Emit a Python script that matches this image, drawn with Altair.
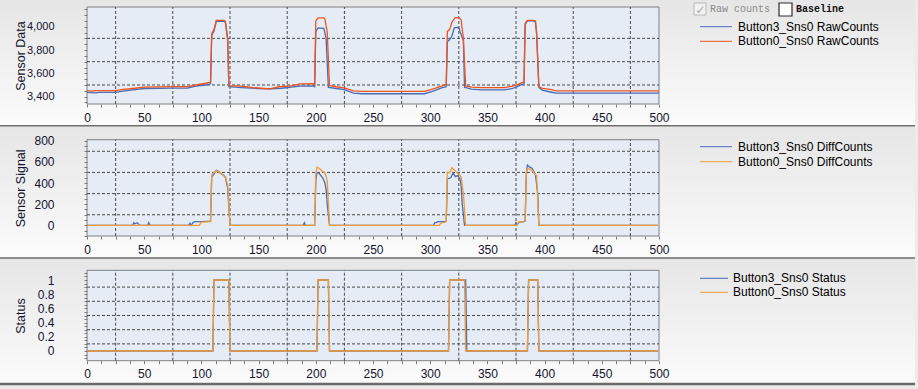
import altair as alt
import pandas as pd

# ---------------- data ----------------
x_tick_values = [i * 12.5 for i in range(41)]
v_grid_x = [25, 75, 125, 175, 225, 275, 325, 375, 425, 475]

# Panel 1: raw counts
raw_b3_x = [0, 8, 10, 25, 30, 40, 50, 75, 88, 95, 104, 108, 109, 111, 113, 120, 121, 123, 124, 135,
            150, 160, 170, 186, 198, 199, 200, 202, 207, 209, 211, 218, 225, 233, 240, 295, 302, 310, 314, 315,
            317, 319, 321, 325, 326, 329, 330, 336, 345, 365, 372, 377, 380, 382, 383, 385, 390, 392, 393, 395,
            398, 405, 410, 500]
raw_b3_y = [3437, 3432, 3437, 3437, 3445, 3458, 3470, 3474, 3474, 3490, 3500, 3510, 3925, 3960, 4045, 4045, 4035, 3880, 3485, 3478,
            3470, 3468, 3472, 3490, 3492, 3485, 3960, 3990, 3985, 3900, 3480, 3470, 3460, 3430, 3425, 3425, 3445, 3475, 3485, 3870,
            3890, 3920, 3990, 3995, 3960, 3880, 3480, 3465, 3458, 3458, 3470, 3490, 3505, 3510, 4020, 4050, 4050, 4040, 3940, 3480,
            3455, 3440, 3430, 3430]
raw_b0_x = [0, 5, 7, 25, 30, 40, 50, 75, 88, 95, 104, 108, 109, 111, 113, 120, 121, 123, 124, 135,
            145, 155, 160, 168, 180, 186, 198, 199, 200, 202, 207, 208, 210, 212, 218, 225, 233, 240, 295, 302,
            310, 314, 315, 317, 319, 322, 325, 327, 329, 331, 336, 345, 365, 372, 377, 380, 382, 383, 385, 390,
            392, 393, 395, 398, 405, 410, 500]
raw_b0_y = [3452, 3447, 3452, 3452, 3460, 3470, 3482, 3486, 3486, 3500, 3515, 3525, 3940, 3975, 4055, 4055, 4045, 3900, 3495, 3490,
            3478, 3470, 3466, 3485, 3495, 3510, 3512, 3505, 4050, 4075, 4075, 4065, 3950, 3495, 3485, 3475, 3450, 3445, 3445, 3465,
            3490, 3505, 3960, 3975, 4040, 4078, 4078, 4060, 3900, 3492, 3482, 3478, 3478, 3490, 3505, 3520, 3525, 4030, 4055, 4055,
            4050, 3950, 3488, 3470, 3462, 3450, 3450]

# Panel 2: diff counts
diff_b3_x = [0, 40, 41, 42, 44, 46, 53, 54, 55, 89, 90, 91, 93, 95, 100, 108, 109, 110, 113, 115,
             117, 120, 121, 123, 125, 189, 190, 191, 199, 200, 201, 203, 206, 208, 209, 210, 212, 303, 304, 305,
             307, 313, 314, 315, 317, 318, 320, 322, 324, 326, 327, 328, 330, 374, 375, 376, 378, 382, 383, 384,
             385, 387, 389, 391, 392, 394, 395, 499]
diff_b3_y = [0, 0, 25, 15, 25, 0, 0, 25, 0, 0, 20, 0, 30, 35, 35, 40, 460, 470, 520, 510,
             490, 470, 450, 350, 0, 0, 25, 0, 0, 420, 500, 490, 450, 400, 340, 200, 0, 0, 25, 25,
             35, 35, 40, 440, 445, 450, 495, 460, 470, 440, 380, 200, 0, 0, 25, 10, 30, 35, 40, 480,
             570, 550, 540, 500, 480, 300, 0, 0]
diff_b0_x = [0, 98, 100, 108, 109, 110, 113, 115, 117, 121, 123, 125, 199, 200, 201, 203, 206, 208, 210, 212,
             308, 309, 313, 314, 315, 317, 319, 322, 325, 327, 329, 331, 376, 377, 381, 383, 384, 385, 389, 391,
             393, 395, 499]
diff_b0_y = [0, 0, 30, 35, 470, 490, 515, 505, 495, 455, 380, 0, 0, 480, 550, 540, 510, 495, 420, 0,
             0, 20, 30, 40, 500, 495, 545, 515, 480, 460, 300, 0, 0, 30, 35, 40, 500, 540, 520, 490,
             470, 0, 0]

# Panel 3: status
status_b3_x = [0, 110, 111, 124, 125, 201, 202, 211, 212, 316, 317, 331, 332, 385, 386, 394, 395, 499]
status_b3_y = [0, 0, 1, 1, 0, 0, 1, 1, 0, 0, 1, 1, 0, 0, 1, 1, 0, 0]
status_b0_x = [0, 110, 111, 124, 125, 201, 202, 211, 212, 316, 317, 330, 331, 385, 386, 394, 395, 499]
status_b0_y = [0, 0, 1, 1, 0, 0, 1, 1, 0, 0, 1, 1, 0, 0, 1, 1, 0, 0]

raw_ticks = [3350 + 50 * i for i in range(17)]
raw_grid = [3500, 3700, 3900]
diff_ticks = [-100 + 50 * i for i in range(19)]
diff_grid = [100, 300, 500, 700]
status_ticks = [round(-0.1 + 0.05 * i, 2) for i in range(25)]
status_grid = [0.1, 0.3, 0.5, 0.7, 0.9]

legend1 = ["Button3_Sns0 RawCounts", "Button0_Sns0 RawCounts"]
legend2 = ["Button3_Sns0 DiffCounts", "Button0_Sns0 DiffCounts"]
legend3 = ["Button3_Sns0 Status", "Button0_Sns0 Status"]

# ---------------- style ----------------
W, H = 918, 389
XL, XR = 87, 659
BLUE = "#4A6CB3"
RED = "#EF5420"
ORANGE = "#F29B36"
FONT = "Liberation Sans"
TXT = "#14142E"
one = pd.DataFrame({"k": [0]})


def x_axis(offset):
    return alt.Axis(orient="bottom", offset=offset, values=x_tick_values, zindex=1,
                    labelExpr="datum.value % 50 == 0 ? format(datum.value, 'd') : ''",
                    tickSize=3, tickColor="#7A7A7A", domain=False, grid=False,
                    labelFont=FONT, labelFontSize=12, labelColor=TXT, labelPadding=5,
                    labelFlush=False, labelOverlap=False, labelBound=False, title=None)


def y_axis(title, title_y, values, expr, lsize):
    return alt.Axis(orient="left", offset=-XL, values=values, labelExpr=expr, zindex=1,
                    tickSize=3, tickColor="#7A7A7A", domain=False, grid=False,
                    labelFont=FONT, labelFontSize=lsize, labelColor=TXT, labelPadding=30,
                    labelAlign="right", labelBaseline="middle",
                    labelFlush=False, labelOverlap=False, labelBound=False,
                    title=title, titleX=20 - XL, titleY=title_y, titleAngle=270,
                    titleAlign="center", titleBaseline="middle",
                    titleFont=FONT, titleFontSize=12.5, titleFontWeight="normal", titleColor=TXT)


def panel(series, ydom, yrange, ticks, grid, expr, title, x_off, lsize=12):
    xs = alt.Scale(domain=[0, 500], range=[XL, XR], nice=False, zero=False)
    ys = alt.Scale(domain=ydom, range=yrange, nice=False, zero=False)
    X = alt.X("x:Q", scale=xs, axis=x_axis(x_off))
    Y = alt.Y("y:Q", scale=ys, axis=y_axis(title, (yrange[0] + yrange[1]) / 2, ticks, expr, lsize))
    frame = alt.Chart(pd.DataFrame({"x": [0], "x2": [500], "y": [ydom[0]], "y2": [ydom[1]]})).mark_rect(
        fill="#E5ECF6", stroke="#808080", strokeWidth=1).encode(x=X, x2="x2:Q", y=Y, y2="y2:Q")
    vg = alt.Chart(pd.DataFrame({"x": v_grid_x, "y": [ydom[0]] * len(v_grid_x), "y2": [ydom[1]] * len(v_grid_x)})).mark_rule(
        color="#4A4A4A", strokeDash=[3, 2], strokeWidth=1).encode(x=X, y=Y, y2="y2:Q")
    hg = alt.Chart(pd.DataFrame({"y": grid, "x": [0] * len(grid), "x2": [500] * len(grid)})).mark_rule(
        color="#4A4A4A", strokeDash=[3, 2], strokeWidth=1).encode(x=X, x2="x2:Q", y=Y)
    lines = []
    for xs_, ys_, col in series:
        lines.append(alt.Chart(pd.DataFrame({"x": xs_, "y": ys_})).mark_line(
            color=col, strokeWidth=1.3).encode(x=X, y=Y))
    return alt.layer(frame, vg, hg, *lines)


def grad(c0, c1):
    return alt.LinearGradient(gradient="linear", x1=0, x2=0, y1=0, y2=1,
                              stops=[alt.GradientStop(color=c0, offset=0), alt.GradientStop(color=c1, offset=1)])


def box(x0, x1, y0, y1, **kw):
    return alt.Chart(one).mark_rect(**kw).encode(x=alt.value(x0), x2=alt.value(x1), y=alt.value(y0), y2=alt.value(y1))


def text(s, x, y, **kw):
    return alt.Chart(one).mark_text(text=s, align="left", baseline="middle", **kw).encode(x=alt.value(x), y=alt.value(y))


def hline(x0, x1, y, color, w=1):
    return alt.Chart(one).mark_rule(color=color, strokeWidth=w).encode(x=alt.value(x0), x2=alt.value(x1), y=alt.value(y))


bg = [
    box(0, W, 0, H, fill="#EBEBEB"),
    box(0, 915, 0, 125, fill=grad("#E6E6E6", "#FBFBFB")),
    box(0, 915, 127, 257, fill=grad("#E6E6E6", "#FBFBFB")),
    box(0, 915, 259, 383, fill=grad("#E6E6E6", "#FBFBFB")),
    hline(0, 915, 125.8, "#6E6E6E", 1.6),
    hline(0, 915, 258, "#6E6E6E", 1.6),
    hline(0, 915, 384, "#6A6A6A", 2.6),
]

p1 = panel([(raw_b3_x, raw_b3_y, BLUE), (raw_b0_x, raw_b0_y, RED)],
           [3337, 4169], [104, 7], raw_ticks, raw_grid,
           "datum.value % 200 == 0 ? format(datum.value, ',') : ''", "Sensor Data", 104 - H, lsize=11)
p2 = panel([(diff_b3_x, diff_b3_y, BLUE), (diff_b0_x, diff_b0_y, ORANGE)],
           [-101, 809.5], [236, 139.7], diff_ticks, diff_grid,
           "(datum.value % 200 == 0 && datum.value >= 0) ? format(datum.value, 'd') : ''", "Sensor Signal", 236 - H)
p3 = panel([(status_b3_x, status_b3_y, BLUE), (status_b0_x, status_b0_y, ORANGE)],
           [-0.137, 1.137], [360.7, 270.3], status_ticks, status_grid,
           "(abs(datum.value * 5 - round(datum.value * 5)) < 0.001 && datum.value > -0.01 && datum.value < 1.01) ? format(datum.value, '.1~f') : ''",
           "Status", 360.7 - H)

leg = [
    box(694, 706, 3, 15, fill="#F2F2F2", stroke="#B8B8B8", strokeWidth=1),
    text("\u2713", 695.5, 9.5, font="DejaVu Sans", fontSize=12, color="#A8A8A8"),
    text("Raw counts", 710, 9, font="Liberation Mono", fontSize=10, color="#8A8A8A"),
    box(779, 792, 3, 16, fill="#FFFFFF", stroke="#2A2A2A", strokeWidth=1.2),
    text("Baseline", 796, 9, font="Liberation Mono", fontSize=10, fontWeight="bold", color="#111111"),
    hline(700, 732, 26.7, BLUE), text(legend1[0], 738, 26.7, font=FONT, fontSize=12, color="#000000"),
    hline(700, 732, 41.3, RED), text(legend1[1], 738, 41.3, font=FONT, fontSize=12, color="#000000"),
    hline(700, 732, 146.7, BLUE), text(legend2[0], 738, 146.7, font=FONT, fontSize=12, color="#000000"),
    hline(700, 732, 161.7, ORANGE), text(legend2[1], 738, 161.7, font=FONT, fontSize=12, color="#000000"),
    hline(700, 728, 278.3, BLUE), text(legend3[0], 733, 278.3, font=FONT, fontSize=12, color="#000000"),
    hline(700, 728, 292.3, ORANGE), text(legend3[1], 733, 292.3, font=FONT, fontSize=12, color="#000000"),
]

chart = alt.layer(*bg, p1, p2, p3, *leg).resolve_scale(
    x="independent", y="independent"
).properties(
    width=W, height=H, autosize=alt.AutoSizeParams(type="none"), padding=0, background="#EBEBEB"
).configure_view(stroke=None)

chart.save("out.html", embed_options={"renderer": "svg", "actions": False})
